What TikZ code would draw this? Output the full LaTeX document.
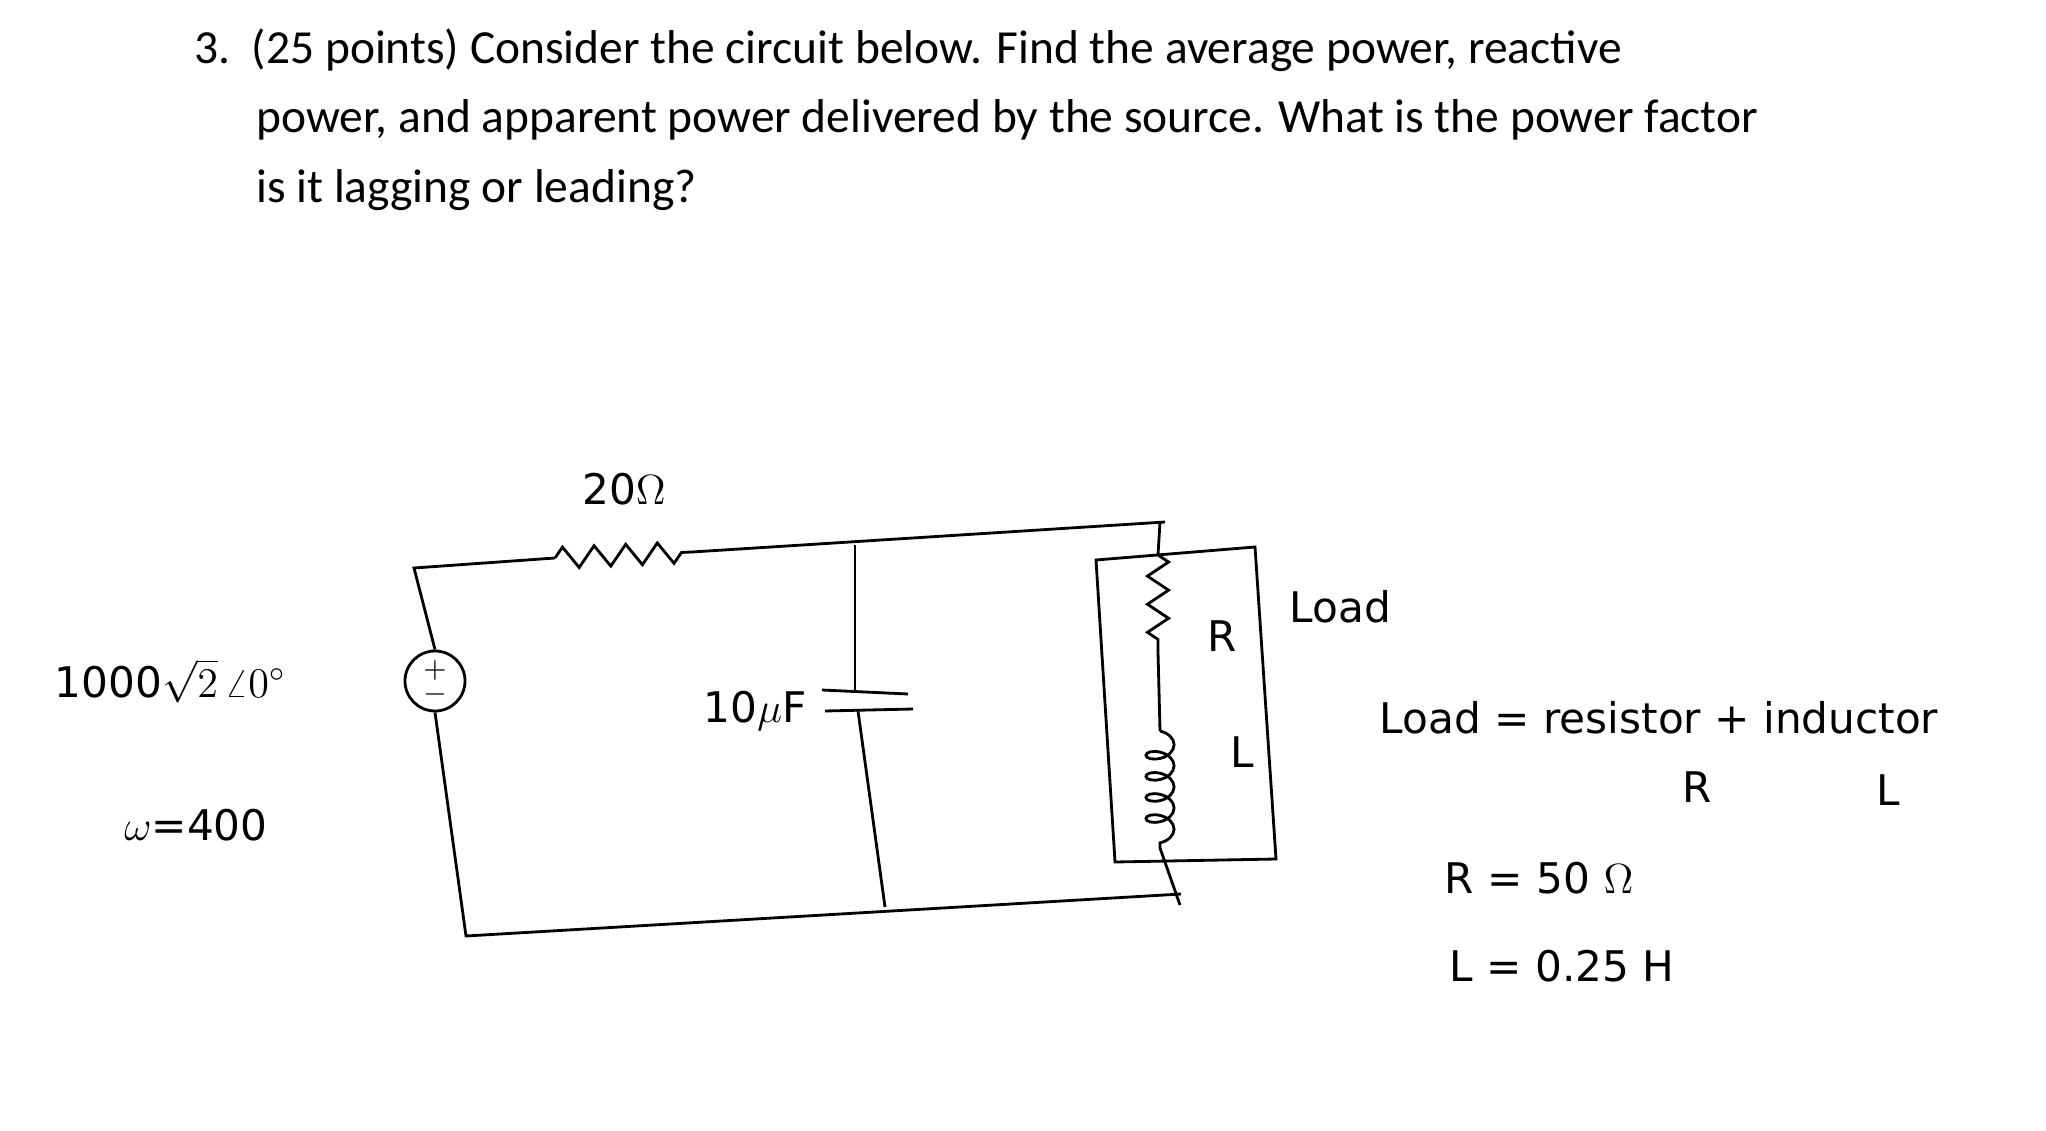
\documentclass[tikz,border=0pt]{standalone}
\usepackage{fontspec}
\setmainfont{Carlito}
\newfontfamily\hand{DejaVu Sans}
\usetikzlibrary{decorations.pathmorphing}
\begin{document}
\begin{tikzpicture}[x=0.01cm,y=-0.01cm,line width=0.8pt,
  hw/.style={font=\hand\fontsize{12pt}{14pt}\selectfont,inner sep=1pt},
  q/.style={font=\fontsize{13.5pt}{16pt}\selectfont,anchor=west,inner sep=0pt}]
\useasboundingbox (0,0) rectangle (2046,1131);
\node[q] (t1) at (193,50) {3.\ \ (25 points) Consider the circuit below. Find the average power, reactive};
\node[q] (t2) at (255,120) {power, and apparent power delivered by the source. What is the power factor};
\node[q] (t3) at (255,190) {is it lagging or leading?};
\coordinate (tl) at (414,568);
\coordinate (r1) at (555,558);
\coordinate (r2) at (692,552);
\coordinate (tr) at (1165,522);
\coordinate (bl) at (466,936);
\coordinate (br) at (1181,894);
\node[circle,draw,minimum size=0.6cm,inner sep=0] (src) at (435,681) {};
\node[font=\fontsize{8pt}{8pt}\selectfont,inner sep=0] (plus) at (435,670) {$+$};
\node[font=\fontsize{8pt}{8pt}\selectfont,inner sep=0] (minus) at (435,694) {$-$};
\draw (src.north) -- (tl) -- (r1);
\draw[decorate,decoration={zigzag,segment length=9pt,amplitude=3pt}] (r1) -- (r2);
\draw (r2) -- (tr);
\draw (src.south) -- (bl) -- (br);
\coordinate (ct) at (855,545);
\coordinate (cb) at (885,907);
\coordinate (p1) at (855,692);
\coordinate (p2) at (858,711);
\draw (ct) -- (p1);
\draw (p2) -- (cb);
\draw (822,690) -- (908,694);
\draw (825,711) -- (913,709);
\coordinate (lt) at (1160,522);
\coordinate (lr1) at (1158,555);
\coordinate (lr2) at (1158,652);
\coordinate (li1) at (1160,731);
\coordinate (li2) at (1160,848);
\coordinate (lb) at (1180,905);
\draw (lt) -- (lr1);
\draw[decorate,decoration={zigzag,segment length=8pt,amplitude=3pt}] (lr1) -- (lr2);
\draw (lr2) -- (li1);
\draw[decorate,decoration={coil,aspect=0.6,segment length=6pt,amplitude=4pt}] (li1) -- (li2);
\draw (li2) -- (lb);
\draw (1096,560) -- (1255,547) -- (1276,859) -- (1115,862) -- cycle;
\node[hw] (lR) at (1222,636) {R};
\node[hw] (lL) at (1242,752) {L};
\node[hw,anchor=west] (load) at (1285,607) {Load};
\node[hw] (ohm) at (624,489) {20$\Omega$};
\node[hw,anchor=west] (vs) at (50,681) {1000$\sqrt{2}\,\angle 0^\circ$};
\node[hw] (w) at (196,825) {$\omega$=400};
\node[hw] (cap) at (755,711) {10$\mu$F};
\node[hw,anchor=west] (eq) at (1375,718) {Load = resistor + inductor};
\node[hw] (eR) at (1697,787) {R};
\node[hw] (eL) at (1888,790) {L};
\node[hw,anchor=west] (rv) at (1440,878) {R = 50 $\Omega$};
\node[hw,anchor=west] (lv) at (1445,966) {L = 0.25 H};
\end{tikzpicture}
\end{document}
